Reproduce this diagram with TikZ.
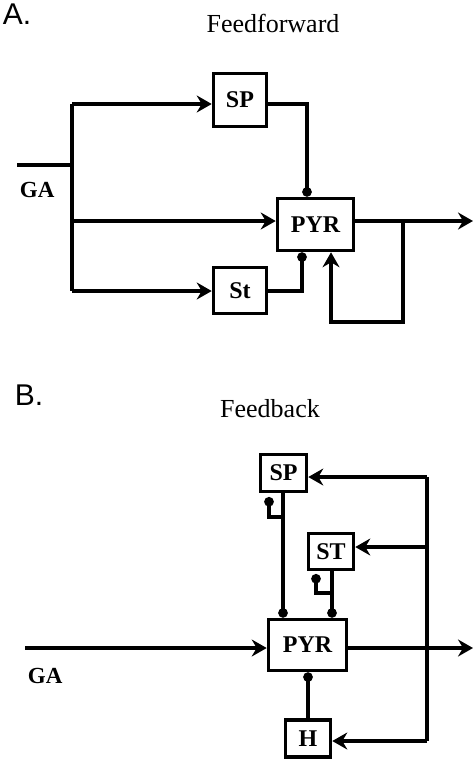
\documentclass[tikz,border=0pt]{standalone}
\usepackage{fontspec}
\setmainfont{Liberation Serif}
\newfontfamily\sansA{Liberation Sans}
\usetikzlibrary{arrows.meta}
\begin{document}
\begin{tikzpicture}[x=1pt,y=-1pt, line width=3.3pt,
  box/.style={draw, line width=3.6pt, inner sep=0pt, font=\fontsize{24}{24}\selectfont\bfseries},
  arr/.style={-{Stealth[length=15pt,width=17pt,inset=5pt]}},
  inh/.style={-{Circle[length=9.5pt]}},
  ttl/.style={anchor=base, font=\fontsize{26}{26}\selectfont},
  plab/.style={anchor=base west, font=\sansA\fontsize{30}{30}\selectfont},
  galab/.style={anchor=base west, font=\fontsize{23}{23}\selectfont\bfseries}]
\useasboundingbox (0,0) rectangle (474,760);
% ---------------- A ----------------
\node[plab] (labA) at (-2,25) {A.};
\node[ttl] (ffA) at (273,33) {Feedforward};
\node[box, minimum width=53pt, minimum height=53pt] (SPa) at (240,100) {SP};
\node[box, minimum width=76pt, minimum height=52pt] (PYRa) at (315.5,224.5) {PYR};
\node[box, minimum width=53pt, minimum height=46pt] (Sta) at (240,290.5) {St};
\node[galab] (gaA) at (15,197) {GA};
\coordinate (inA) at (17,165);
\coordinate (jA) at (72,165);
\coordinate (tA1) at (72,104);
\coordinate (tA2) at (72,221);
\coordinate (tA3) at (72,291);
\draw (inA) -- (jA);
\draw (tA1) -- (tA3);
\draw[arr] (tA1) -- (tA1 -| SPa.west);
\draw[arr] (tA2) -- (tA2 -| PYRa.west);
\draw[arr] (tA3) -- (tA3 -| Sta.west);
\coordinate (cA1) at (307,104);
\draw[inh] (SPa.east |- cA1) -- (cA1) -- (cA1 |- PYRa.north);
\coordinate (cA2) at (302,291);
\draw[inh] (Sta.east |- cA2) -- (cA2) -- (cA2 |- PYRa.south);
\coordinate (oA) at (473,221);
\draw[arr] (PYRa.east |- oA) -- (oA);
\coordinate (lA1) at (403,221);
\coordinate (lA2) at (403,322);
\coordinate (lA3) at (331,322);
\draw[arr] (lA1) -- (lA2) -- (lA3) -- (lA3 |- PYRa.south);
% ---------------- B ----------------
\node[plab] (labB) at (10,405) {B.};
\node[ttl] (fbB) at (270,417) {Feedback};
\node[box, minimum width=46pt, minimum height=37pt] (SPb) at (283.5,473) {SP};
\node[box, minimum width=45pt, minimum height=36pt] (STb) at (331,551.5) {ST};
\node[box, minimum width=78pt, minimum height=51pt] (PYRb) at (307.5,645) {PYR};
\node[box, minimum width=45pt, minimum height=37pt] (Hb) at (308,738.5) {H};
\node[galab] (gaB) at (23,683) {GA};
\coordinate (inB) at (25,648);
\draw[arr] (inB) -- (inB -| PYRb.west);
\coordinate (oB) at (473,648);
\draw[arr] (PYRb.east |- oB) -- (oB);
\coordinate (fB1) at (427,477);
\coordinate (fB2) at (427,547);
\coordinate (fB3) at (427,741);
\draw (fB1) -- (fB3);
\draw[arr] (fB1) -- (fB1 -| SPb.east);
\draw[arr] (fB2) -- (fB2 -| STb.east);
\draw[arr] (fB3) -- (fB3 -| Hb.east);
\coordinate (dB1) at (283,517);
\draw[inh] (dB1 |- SPb.south) -- (dB1 |- PYRb.north);
\coordinate (sB1) at (269,517);
\coordinate (sB1e) at (269,497);
\draw[inh, line width=3.1pt] (dB1) -- (sB1) -- (sB1e);
\coordinate (dB2) at (332,593);
\draw[inh] (dB2 |- STb.south) -- (dB2 |- PYRb.north);
\coordinate (sB2) at (316,593);
\coordinate (sB2e) at (316,574);
\draw[inh, line width=3.1pt] (dB2) -- (sB2) -- (sB2e);
\coordinate (hB) at (308,700);
\draw[inh] (hB |- Hb.north) -- (hB |- PYRb.south);
\end{tikzpicture}
\end{document}
